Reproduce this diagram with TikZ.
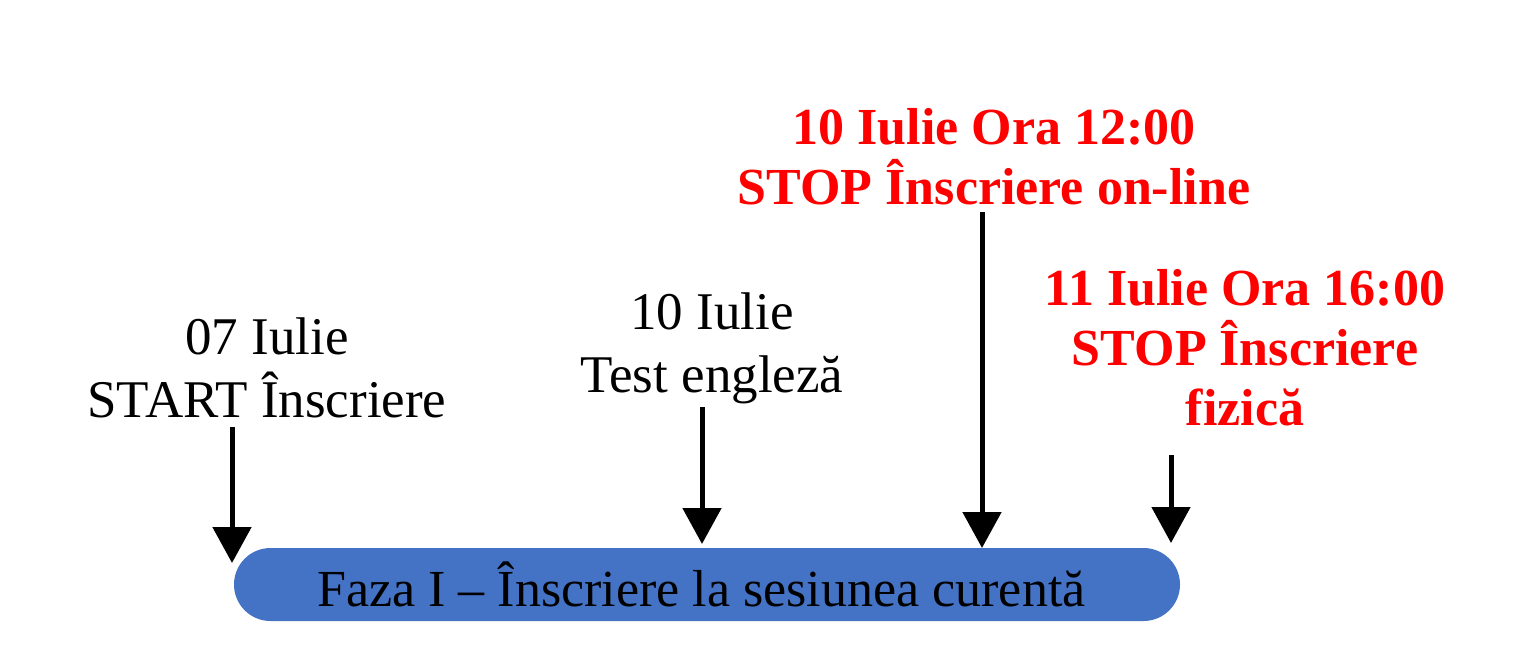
\documentclass[tikz,border=0pt]{standalone}
\usepackage{fontspec}
\setmainfont{Liberation Serif}
\usetikzlibrary{arrows.meta}
\definecolor{barblue}{HTML}{4472C4}
\definecolor{stopred}{HTML}{FF0000}
\begin{document}
\begin{tikzpicture}[x=1pt,y=-1pt,
  lbl/.style={align=center,inner sep=0pt,font=\fontsize{53}{63}\selectfont},
  redlbl/.style={lbl,text=stopred,font=\fontsize{52}{60}\selectfont\bfseries},
  arr/.style={line width=5pt,-{Triangle[length=36pt,width=38pt]}}]
\useasboundingbox (0,0) rectangle (1536,658);
\node[fill=barblue,rounded corners=36.5pt,minimum width=946pt,minimum height=73pt,inner sep=0pt] (bar) at (707,584.5) {};
\node[inner sep=0pt,font=\fontsize{52}{62}\selectfont] (bartext) at (701.5,584.5) {Faza I – Înscriere la sesiunea curentă};
\node[lbl] (start) at (267,368) {07 Iulie\\START Înscriere};
\node[lbl] (test) at (712,348) {10 Iulie\\Test engleză};
\node[redlbl] (online) at (994,157) {10 Iulie Ora 12:00\\STOP Înscriere on-line};
\node[redlbl] (fizic) at (1245,348) {11 Iulie Ora 16:00\\STOP Înscriere\\fizică};
\coordinate (a1s) at (232,427); \coordinate (a1e) at (232,563);
\coordinate (a2s) at (702,407); \coordinate (a2e) at (702,544);
\coordinate (a3s) at (982,212); \coordinate (a3e) at (982,548);
\coordinate (a4s) at (1171,455); \coordinate (a4e) at (1171,543);
\draw[arr] (a1s) -- (a1e);
\draw[arr] (a2s) -- (a2e);
\draw[arr] (a3s) -- (a3e);
\draw[arr] (a4s) -- (a4e);
\end{tikzpicture}
\end{document}
